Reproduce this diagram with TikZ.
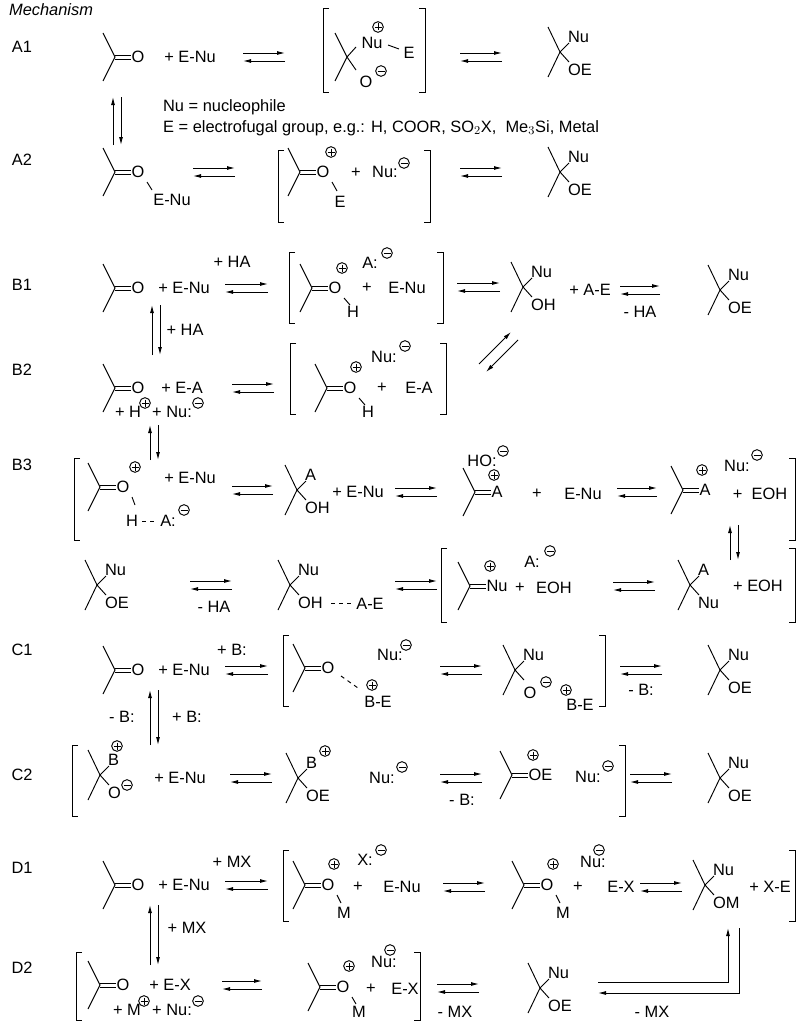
\documentclass[tikz,border=0pt]{standalone}
\usepackage{fontspec}
\setmainfont{Liberation Sans}
\usetikzlibrary{arrows.meta}
\newcommand\ket[3]{\draw (#1-12,#2-24)--(#1,#2)--(#1-12,#2+24);
 \draw (#1,#2-2)--(#1+16,#2-2) (#1,#2+2)--(#1+16,#2+2);
 \node[t,anchor=west] at (#1+15.5,#2) {#3};}
\newcommand\tet[4]{\draw (#1-12,#2-25)--(#1,#2)--(#1-12,#2+25);
 \draw (#1,#2)--(#1+9,#2-9) (#1,#2)--(#1+9,#2+10);
 \node[t,anchor=west] at (#1+7,#2-15) {#3};
 \node[t,anchor=west] at (#1+7,#2+18) {#4};}
\newcommand\eqh[3]{\draw[-{Latex[length=6pt,width=3pt]}] (#1,#3-4)--(#2,#3-4);
 \draw[-{Latex[length=6pt,width=3pt]}] (#2,#3+4)--(#1,#3+4);}
\newcommand\eqv[3]{\draw[-{Latex[length=6pt,width=3pt]}] (#1-4,#3)--(#1-4,#2);
 \draw[-{Latex[length=6pt,width=3pt]}] (#1+4,#2)--(#1+4,#3);}
\newcommand\lb[3]{\draw (#1+6,#2)--(#1,#2)--(#1,#3)--(#1+6,#3);}
\newcommand\rb[3]{\draw (#1-6,#2)--(#1,#2)--(#1,#3)--(#1-6,#3);}
\newcommand\cpl[2]{\draw (#1,#2) circle[radius=4pt]; \draw (#1-3.5,#2)--(#1+3.5,#2) (#1,#2-3.5)--(#1,#2+3.5);}
\newcommand\cmi[2]{\draw (#1,#2) circle[radius=4pt]; \draw (#1-3.5,#2)--(#1+3.5,#2);}
\newcommand\T[3]{\node[t] at (#1,#2) {#3};}
\begin{document}
\begin{tikzpicture}[x=0.75pt,y=-0.75pt,line width=0.7pt,
 t/.style={inner sep=0.5pt,font=\fontsize{12.3}{14}\selectfont}]
\useasboundingbox (0,0) rectangle (808,1024);
\node[t,anchor=west,font=\fontsize{12.3}{14}\selectfont\itshape] (title) at (8,10) {Mechanism};
% ---------- A1
\T{22}{47}{A1}
\ket{115}{57}{O} \T{190}{57}{+ E-Nu}
\eqh{243}{285}{57}
\lb{323}{8}{92} \rb{425}{8}{92}
\draw (335,33)--(347,57)--(335,81) (347,57)--(356,47) (347,57)--(356,70);
\T{372}{43}{Nu} \cpl{378}{27} \draw (388,45)--(399,49); \T{409}{53}{E}
\T{366}{82}{O} \cmi{381}{71}
\eqh{460}{502}{57}
\tet{560}{52}{Nu}{OE}
\eqv{117}{97}{145}
\node[t,anchor=west] at (162,107) {Nu = nucleophile};
\node[t,anchor=west] at (162,128) {E = electrofugal group, e.g.: H, COOR, SO$_2$X,\ \ Me$_3$Si, Metal};
% ---------- A2
\T{22}{160}{A2}
\ket{115}{172}{O} \draw (147,182)--(152,190); \T{172}{200}{E-Nu}
\eqh{193}{235}{172}
\lb{278}{150}{222} \rb{430}{150}{222}
\ket{300}{172}{O} \cpl{331}{152} \draw (332,182)--(337,191); \T{340}{202}{E}
\T{356}{173}{+} \T{385}{172}{Nu:} \cmi{404}{163}
\eqh{460}{502}{172}
\tet{560}{172}{Nu}{OE}
% ---------- B1
\T{22}{285}{B1}
\ket{115}{288}{O} \T{184}{288}{+ E-Nu} \T{232}{262}{+ HA}
\eqh{225}{268}{288}
\lb{289}{252}{323} \rb{443}{252}{323}
\ket{312}{288}{O} \cpl{342}{268} \draw (344,298)--(350,305); \T{353}{312}{H}
\T{370}{263}{A:} \cmi{387}{253} \T{367}{288}{+} \T{407}{288}{E-Nu}
\eqh{457}{500}{287}
\tet{523}{287}{Nu}{OH}
\T{590}{290}{+ A-E}
\eqh{620}{660}{290} \T{640}{312}{- HA}
\tet{720}{290}{Nu}{OE}
\eqv{156}{305}{355} \T{185}{330}{+ HA}
% ---------- B2
\T{22}{370}{B2}
\ket{115}{388}{O} \T{182}{388}{+ E-A}
\T{128}{412}{+ H} \cpl{145}{403} \T{172}{412}{+ Nu:} \cmi{198}{403}
\eqh{232}{274}{388}
\lb{290}{343}{414} \rb{446}{343}{414}
\ket{327}{388}{O} \cpl{356}{367} \draw (359,398)--(365,405); \T{368}{412}{H}
\T{384}{357}{Nu:} \cmi{405}{346} \T{382}{388}{+} \T{419}{388}{E-A}
\draw[-{Latex[length=6pt,width=3pt]}] (479,364)--(511,332);
\draw[-{Latex[length=6pt,width=3pt]}] (518,340)--(486,372);
\eqv{154}{425}{460}
% ---------- B3
\T{22}{465}{B3}
\lb{74}{458}{540} \rb{795}{458}{540}
\ket{100}{487}{O} \cpl{135}{467} \draw (132,497)--(135,505); \T{132}{521}{H}
\draw[dashed] (142,521)--(157,521); \T{168}{521}{A:} \cmi{184}{510}
\T{190}{478}{+ E-Nu}
\eqh{232}{273}{490}
\tet{297}{490}{A}{OH}
\T{358}{492}{+ E-Nu}
\eqh{395}{437}{492}
\ket{475}{492}{A} \cpl{494}{475} \T{482}{461}{HO:} \cmi{503}{451}
\T{537}{494}{+} \T{583}{494}{E-Nu}
\eqh{617}{657}{492}
\ket{683}{490}{A} \cpl{702}{470} \T{737}{466}{Nu:} \cmi{757}{455}
\T{760}{494}{+\ \ EOH}
\eqv{734}{525}{560}
% ---------- B3 row 2
\tet{97}{585}{Nu}{OE}
\eqh{190}{232}{585} \T{214}{607}{- HA}
\tet{290}{585}{Nu}{OH}
\draw[dashed] (331,603)--(352,603); \T{370}{604}{A-E}
\eqh{395}{437}{585}
\lb{441}{548}{622} \rb{795}{548}{622}
\ket{470}{586}{Nu} \cpl{490}{566} \T{532}{562}{A:} \cmi{550}{551}
\T{520}{588}{+} \T{554}{588}{EOH}
\eqh{613}{655}{586}
\tet{690}{585}{A}{Nu}
\T{758}{586}{+ EOH}
% ---------- C1
\T{22}{650}{C1}
\ket{115}{670}{O} \T{184}{670}{+ E-Nu} \T{232}{650}{+ B:}
\eqh{225}{268}{670}
\lb{283}{635}{706} \rb{605}{635}{706}
\ket{305}{668}{O} \draw[dashed] (341,676)--(358,688); \cpl{372}{685} \T{378}{702}{B-E}
\T{390}{655}{Nu:} \cmi{406}{645}
\eqh{440}{482}{670}
\tet{515}{670}{Nu}{}
\T{530}{693}{O} \cmi{546}{682} \cpl{566}{690} \T{580}{705}{B-E}
\eqh{620}{662}{670} \T{641}{690}{- B:}
\tet{720}{670}{Nu}{OE}
\eqv{154}{690}{745} \T{122}{717}{- B:} \T{187}{717}{+ B:}
% ---------- C2
\T{22}{775}{C2}
\lb{72}{745}{816} \rb{625}{745}{816}
\tet{100}{775}{B}{O} \cpl{117}{746} \cmi{127}{785}
\T{180}{778}{+ E-Nu}
\eqh{230}{272}{778}
\tet{298}{778}{B}{OE} \cpl{325}{751}
\T{382}{778}{Nu:} \cmi{402}{767}
\eqh{440}{482}{778} \T{462}{800}{- B:}
\ket{512}{775}{OE} \cpl{533}{755} \T{588}{777}{Nu:} \cmi{608}{766}
\eqh{630}{672}{778}
\tet{720}{778}{Nu}{OE}
% ---------- D1
\T{22}{868}{D1}
\ket{115}{885}{O} \T{184}{885}{+ E-Nu} \T{232}{862}{+ MX}
\eqh{225}{268}{885}
\lb{283}{850}{921} \rb{795}{850}{921}
\ket{305}{885}{O} \cpl{334}{864} \draw (337,895)--(341,903); \T{344}{913}{M}
\T{365}{860}{X:} \cmi{381}{850} \T{358}{887}{+} \T{402}{887}{E-Nu}
\eqh{443}{485}{887}
\ket{524}{885}{O} \cpl{553}{864} \draw (556,895)--(560,903); \T{563}{913}{M}
\T{593}{862}{Nu:} \cmi{599}{850} \T{578}{887}{+} \T{621}{887}{E-X}
\eqh{640}{682}{887}
\tet{705}{885}{Nu}{OM}
\T{770}{887}{+ X-E}
\eqv{154}{905}{965} \T{187}{928}{+ MX}
% ---------- D2
\T{22}{968}{D2}
\lb{76}{952}{1020} \rb{420}{952}{1020}
\ket{100}{985}{O} \T{170}{985}{+ E-X}
\T{127}{1010}{+ M} \cpl{144}{1001} \T{172}{1010}{+ Nu:} \cmi{198}{1001}
\eqh{222}{262}{985}
\ket{320}{987}{O} \cpl{349}{966} \draw (352,997)--(356,1004); \T{359}{1012}{M}
\T{384}{962}{Nu:} \cmi{390}{950} \T{371}{989}{+} \T{405}{989}{E-X}
\eqh{437}{479}{988} \T{455}{1012}{- MX}
\tet{540}{988}{Nu}{OE}
\draw[-{Latex[length=6pt,width=3pt]}] (598,982)--(728,982)--(728,928);
\draw[-{Latex[length=6pt,width=3pt]}] (739,928)--(739,993)--(598,993);
\T{652}{1012}{- MX}
\end{tikzpicture}
\end{document}
